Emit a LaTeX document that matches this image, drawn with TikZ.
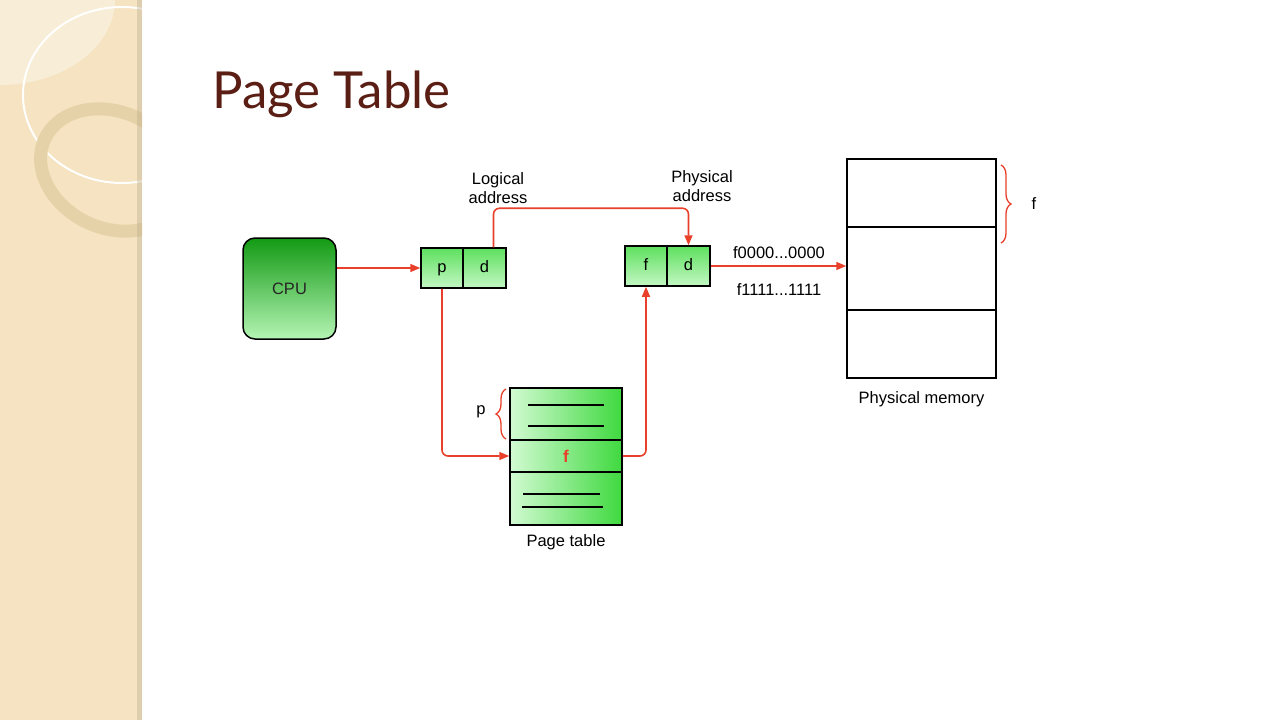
\documentclass[tikz,border=0pt]{standalone}
\usepackage{fontspec}
\setmainfont{Liberation Sans}
\newfontfamily\titlefont{Lato}
\usetikzlibrary{arrows.meta,decorations.pathreplacing}

\definecolor{linkred}{HTML}{E8402A}
\definecolor{titlebrown}{HTML}{5A1E14}
\definecolor{panelbeige}{HTML}{F5E3C2}
\definecolor{panellight}{HTML}{F8EDD6}
\definecolor{panelring}{HTML}{E6D2A8}
\definecolor{cpudark}{HTML}{139A13}
\definecolor{cpulight}{HTML}{B4F4B4}
\definecolor{cellgreen}{HTML}{5EE05E}
\definecolor{celllight}{HTML}{C4F7C4}
\definecolor{tabgreen}{HTML}{3FD93F}
\definecolor{tablight}{HTML}{D2FAD2}

\begin{document}
\begin{tikzpicture}[x=1pt, y=-1pt,
    every node/.style={font=\fontsize{16.5}{19}\selectfont, inner sep=0pt},
    link/.style={draw=linkred, line width=1.6pt, rounded corners=6pt,
        -{Triangle[length=10pt,width=8pt]}},
    cell/.style={draw, line width=1.5pt, minimum height=40pt,
        text height=12pt, text depth=3pt,
        top color=cellgreen, bottom color=celllight},
    rule/.style={line width=1.6pt},
    redbrace/.style={draw=linkred, line width=1.3pt,
        decorate, decoration={brace, amplitude=10pt}}
    ]
    % Slide frame and side panel
    \useasboundingbox (0,0) rectangle (1280,720);
    \fill[white] (0,0) rectangle (1280,720);
    \begin{scope}
        \clip (0,0) rectangle (142,720);
        \fill[panelbeige] (0,0) rectangle (142,720);
        \fill[panellight] (0,0) ellipse (115 and 85);
        \draw[white, line width=2pt] (122,95) ellipse (99 and 88);
        \draw[panelring, line width=13pt, rotate around={-25:(112,170)}]
            (112,170) ellipse (74 and 58);
        \fill[panelring!80!black, opacity=0.35] (137,0) rectangle (142,720);
    \end{scope}

    % Title
    \node[font=\titlefont\fontsize{51}{56}\selectfont, text=titlebrown,
        anchor=base west] (title) at (212,108) {Page Table};

    % CPU and logical address
    \node[draw, line width=1.5pt, rounded corners=12pt, minimum width=93pt,
        minimum height=101pt, top color=cpudark, bottom color=cpulight,
        text=black!85] (cpu) at (289.5,288.5) {CPU};
    \node[cell, minimum width=42pt] (lp) at (442,268) {p};
    \node[cell, minimum width=43pt] (ld) at (484.5,268) {d};
    \node[align=center] (logical) at (498,188) {Logical\\address};

    % Physical address
    \node[cell, minimum width=42pt] (pf) at (646,266) {f};
    \node[cell, minimum width=43pt] (pd) at (688.5,266) {d};
    \node[align=center] (physical) at (702,186) {Physical\\address};

    % Page table
    \node[draw, line width=1.5pt, minimum width=112pt, minimum height=137pt,
        left color=tablight, right color=tabgreen] (pt) at (566,456.5) {};
    \node[draw, line width=1.5pt, minimum width=112pt, minimum height=32pt,
        text=linkred, font=\fontsize{17}{19}\selectfont\bfseries] (ptf) at (566,456) {f};
    \draw[rule] (528,405) -- (604,405);
    \draw[rule] (528,426) -- (604,426);
    \draw[rule] (523,494) -- (600,494);
    \draw[rule] (522,507) -- (603,507);
    \node (ptlabel) at (566,542) {Page table};
    \draw[redbrace] (506,439) -- (506,389);
    \node (plabel) at (481,412) {p};

    % Physical memory
    \node[draw, line width=1.5pt, minimum width=149pt, minimum height=219pt]
        (mem) at (921.5,268.5) {};
    \draw[line width=1.5pt] (mem.west |- 0,227) -- (mem.east |- 0,227);
    \draw[line width=1.5pt] (mem.west |- 0,310) -- (mem.east |- 0,310);
    \node (memlabel) at (921.5,399) {Physical memory};
    \draw[redbrace] (1001,165) -- (1001,243);
    \node (flabel) at (1034,204) {f};

    % Connectors
    \draw[link] (cpu.east |- lp.west) -- (lp.west);
    \draw[link] ([xshift=9pt]ld.north) -- ++(0,-39) -| (pd.north);
    \draw[link] (lp.south) |- (ptf.west);
    \draw[link] (ptf.east) -| (pf.south);
    \draw[link] (pd.east) -- (mem.west |- pd.east);
    \node (lowaddr) at (779,253) {f0000...0000};
    \node (highaddr) at (779,290) {f1111...1111};
\end{tikzpicture}
\end{document}
